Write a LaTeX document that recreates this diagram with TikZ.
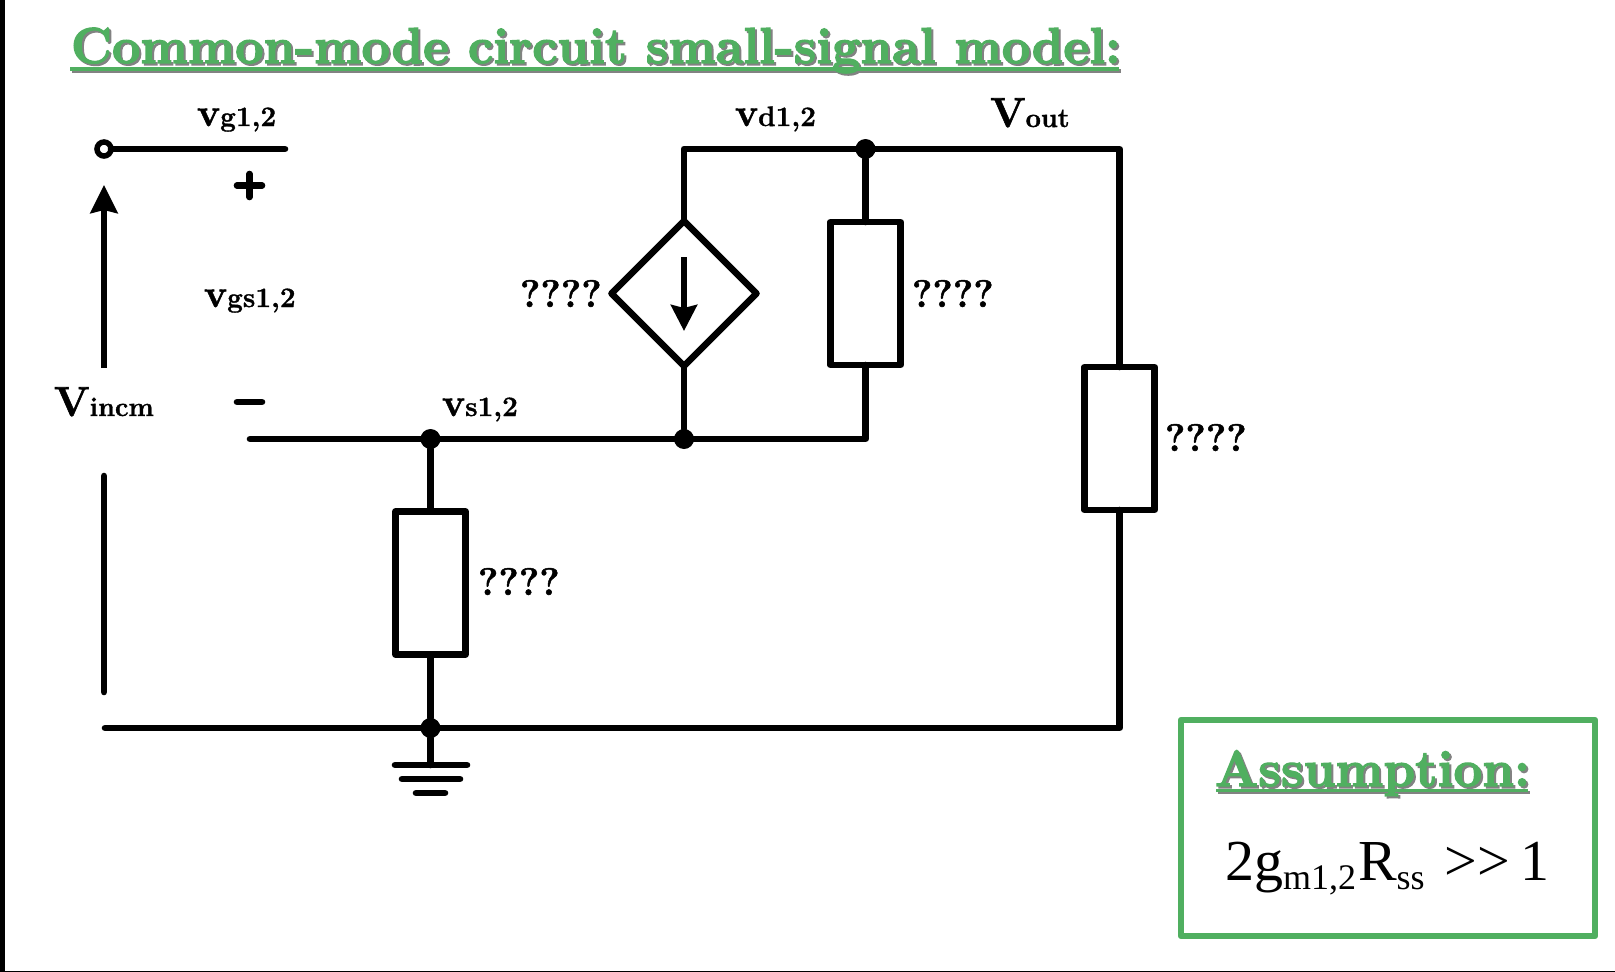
\documentclass[tikz,border=0pt]{standalone}
\usepackage{fontspec}
\usetikzlibrary{shapes.geometric,arrows.meta}
\newfontfamily\formfont{Liberation Serif}
\newfontfamily\hvy[BoldFeatures={FakeBold=2.5}]{Latin Modern Roman}
\newfontfamily\hvyb[BoldFeatures={FakeBold=1.3}]{Latin Modern Roman}
\definecolor{grn}{RGB}{80,175,96}
\definecolor{shd}{RGB}{130,130,130}
\newcommand{\fsz}[1]{\fontsize{#1}{#1}\selectfont}
\newcommand{\lbv}[1]{\hvyb\bfseries\fsz{39}v\fsz{28}#1}
\newcommand{\lbV}[1]{\hvyb\bfseries\fsz{42}V\fsz{27}#1}
\tikzset{
  wire/.style={line width=6.6pt,line cap=round,line join=round},
  res/.style={rectangle,draw,line width=6.6pt,fill=white,minimum width=70pt,minimum height=143pt,inner sep=0pt,outer sep=0pt,line join=round},
  dep/.style={diamond,draw,line width=6.6pt,fill=white,minimum width=145pt,minimum height=145pt,inner sep=0pt,outer sep=0pt,line join=round},
  dot/.style={circle,fill=black,minimum size=20pt,inner sep=0pt,outer sep=0pt},
  opn/.style={circle,draw,line width=5.5pt,fill=white,minimum size=14pt,inner sep=0pt,outer sep=0pt},
  txt/.style={anchor=base west,inner sep=0pt,outer sep=0pt,text=black},
  qq/.style={txt,font=\hvyb\bfseries\fsz{38.5}},
  gtitle/.style={anchor=base west,inner sep=0pt,outer sep=0pt,font=\hvy\bfseries\fsz{50.5},text=grn},
  stitle/.style={gtitle,text=shd},
  atitle/.style={anchor=base west,inner sep=0pt,outer sep=0pt,font=\hvy\bfseries\fsz{51},text=grn},
  satitle/.style={atitle,text=shd},
  arr/.style={wire,line cap=butt,-{Stealth[width=27pt,length=28pt,inset=3pt]}}
}
\begin{document}
\begin{tikzpicture}[x=1pt,y=-1pt]
\useasboundingbox (0,0) rectangle (1615,972);
\fill[black] (0,0) rectangle (4.5,972);
\fill[black] (0,970.5) rectangle (1615,972);
% title
\fill[shd] (72,69) rectangle (1121,72.5);
\node[stitle] (ts) at (73,65) {Common-mode circuit small-signal model:};
\fill[grn] (70,67) rectangle (1119,70.5);
\node[gtitle] (t) at (71,63) {Common-mode circuit small-signal model:};
% points
\coordinate (gl) at (285,149);
\coordinate (sl) at (250,439);
\coordinate (gndl) at (105,728);
\coordinate (tr) at (1119.5,149);
\coordinate (br) at (1119.5,728);
\coordinate (tm) at (684,149);
\coordinate (rj) at (865.5,439);
\coordinate (arrB) at (104,368);
\coordinate (arrT) at (104,185);
\coordinate (lowT) at (104,476);
\coordinate (lowB) at (104,692);
\coordinate (g1) at (430.5,765);
% nodes
\node[dep] (src) at (684,293.5) {};
\node[res] (r2) at (865.5,293.5) {};
\node[res] (r1) at (1119.5,438.5) {};
\node[res] (r3) at (430.5,583) {};
\node[dot] (nd) at (865.5,149) {};
\node[dot] (ns) at (684,439) {};
\node[dot] (nv) at (430.5,439) {};
\node[dot] (ng) at (430.5,728) {};
\node[opn] (in) at (104,149) {};
% wires
\draw[wire] (in) -- (gl);
\draw[wire] (src.north) -- (tm) -- (tr) -- (r1.north);
\draw[wire] (r1.south) -- (br) -- (gndl);
\draw[wire] (src.south) -- (ns);
\draw[wire] (sl) -- (rj) -- (r2.south);
\draw[wire] (r2.north) -- (nd);
\draw[wire] (nv) -- (r3.north);
\draw[wire] (r3.south) -- (ng) -- (g1);
\draw[arr] (arrB) -- (arrT);
\draw[wire] (lowT) -- (lowB);
\draw[wire] (395,765) -- (467,765);
\draw[wire] (402,779) -- (460,779);
\draw[wire] (416,793) -- (445,793);
\draw[wire] (249.5,174) -- (249.5,197);
\draw[wire] (237,185.5) -- (262,185.5);
\draw[wire] (237,402) -- (262,402);
\draw[wire,line cap=butt,-{Stealth[width=26pt,length=26pt,inset=3pt]}] (684,257) -- (684,331);
% labels
\node[txt] (lg) at (197,126) {\lbv{g1,2}};
\node[txt] (ld) at (735,126) {\lbv{d1,2}};
\node[txt] (lgs) at (204,307) {\lbv{gs1,2}};
\node[txt] (ls) at (442,416) {\lbv{s1,2}};
\node[txt] (lo) at (990,127) {\lbV{out}};
\node[txt] (li) at (54,416) {\lbV{incm}};
\node[qq] (q1) at (520,307) {????};
\node[qq] (q2) at (912,307) {????};
\node[qq] (q3) at (1165,451) {????};
\node[qq] (q4) at (478,595) {????};
% box
\draw[grn,line width=6.5pt,line join=round] (1181,720) rectangle (1595,936);
\fill[shd] (1218,791) rectangle (1530,794);
\node[satitle] (as) at (1217,788) {Assumption:};
\fill[grn] (1216,788.5) rectangle (1528,791.5);
\node[atitle] (a) at (1215,786) {Assumption:};
\node[txt] (f) at (1225,880) {\formfont\fsz{58}2g\fsz{36}\raisebox{-9pt}{m1,2}\kern2pt\fsz{58}R\fsz{36}\raisebox{-9pt}{ss}\fsz{58}\kern20pt >>\kern10pt 1};
\end{tikzpicture}
\end{document}
